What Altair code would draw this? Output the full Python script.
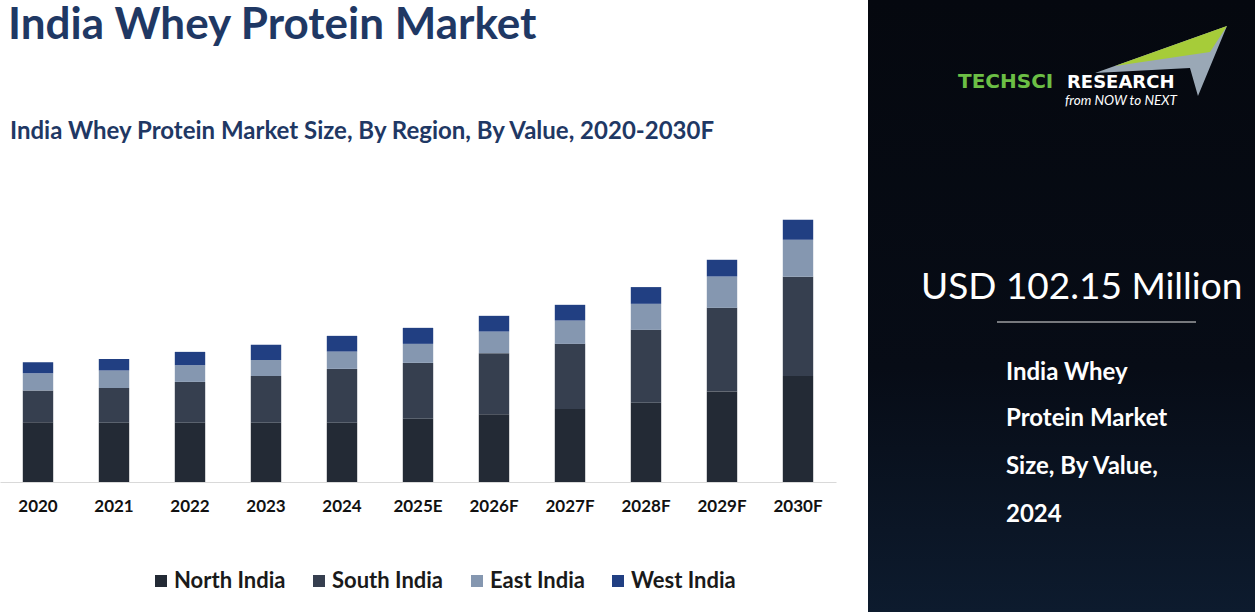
import altair as alt
import pandas as pd

# ---------------- data ----------------
years = ["2020", "2021", "2022", "2023", "2024", "2025E", "2026F", "2027F", "2028F", "2029F", "2030F"]
regions = ["North India", "South India", "East India", "West India"]
north = [41.8, 41.5, 41.5, 41.5, 41.5, 44.3, 47.4, 51.1, 55.5, 63.2, 74.2]
south = [22.1, 24.3, 28.5, 32.7, 37.6, 39.0, 42.7, 45.5, 50.9, 58.6, 69.3]
east = [12.2, 12.1, 11.7, 11.2, 12.1, 13.3, 15.1, 16.3, 18.2, 21.9, 25.9]
west = [7.7, 8.2, 9.3, 10.5, 11.0, 11.2, 11.0, 11.0, 11.7, 11.7, 14.0]
colors = ["#232a35", "#363f4f", "#8597b0", "#213f82"]

title_text = "India Whey Protein Market"
subtitle_text = "India Whey Protein Market Size, By Region, By Value, 2020-2030F"
headline_value = "USD 102.15 Million"
side_lines = ["India Whey", "Protein Market", "Size, By Value,", "2024"]

rows = []
for i, reg in enumerate(regions):
    vals = [north, south, east, west][i]
    for y, v in zip(years, vals):
        rows.append({"Year": y, "Region": reg, "Value": v, "idx": i})
df = pd.DataFrame(rows)

# ---------------- layout ----------------
W, H = 836, 286
TOP, LEFT = 196, 0
TOTAL_W, TOTAL_H = 1255, 612


def one():
    return pd.DataFrame({"t": [""]})


def txt(text, x, y, size, color, weight="bold", font="Lato", style="normal", align="left"):
    return alt.Chart(pd.DataFrame({"t": [text]})).mark_text(
        align=align, baseline="alphabetic", font=font, fontSize=size,
        fontWeight=weight, fontStyle=style, color=color
    ).encode(text="t:N", x=alt.value(x - LEFT), y=alt.value(y - TOP))


# dark right panel
panel = alt.Chart(one()).mark_rect(
    color=alt.LinearGradient(
        gradient="linear", x1=0, x2=0, y1=0, y2=1,
        stops=[alt.GradientStop(color="#05080f", offset=0),
               alt.GradientStop(color="#070c16", offset=0.6),
               alt.GradientStop(color="#0d1b2e", offset=1)]
    )
).encode(x=alt.value(868 - LEFT), x2=alt.value(TOTAL_W - LEFT),
         y=alt.value(-TOP), y2=alt.value(TOTAL_H - TOP))

# logo shapes (custom symbol paths, unit box)
LOGO_SIZE = 133 * 133
logo_gray = alt.Chart(one()).mark_point(
    shape="M -0.992 0.180 L 0.992 -0.526 L 0.556 0.526 L 0.436 0.105 Z",
    filled=True, size=LOGO_SIZE, color="#9aa8b6", opacity=1, strokeWidth=0
).encode(x=alt.value(1161 - LEFT), y=alt.value(61 - TOP))
logo_green = alt.Chart(one()).mark_point(
    shape="M 0.992 -0.526 L -0.692 0.075 L 0.737 -0.135 Z",
    filled=True, size=LOGO_SIZE, color="#a6cc39", opacity=1, strokeWidth=0
).encode(x=alt.value(1161 - LEFT), y=alt.value(61 - TOP))

rule = alt.Chart(one()).mark_rule(color="#e6e6e6", strokeWidth=1).encode(
    x=alt.value(997 - LEFT), x2=alt.value(1196 - LEFT), y=alt.value(322 - TOP)
)

bars = alt.Chart(df).mark_bar().encode(
    x=alt.X("Year:N", sort=years, title=None,
            scale=alt.Scale(paddingInner=0.6, paddingOuter=0.3),
            axis=alt.Axis(labelAngle=0, labelFont="Lato", labelFontWeight="bold",
                          labelFontSize=17, labelColor="#111111", labelPadding=16,
                          ticks=False, domainColor="#d9d9d9", domainWidth=1)),
    y=alt.Y("Value:Q", stack="zero", title=None,
            scale=alt.Scale(domain=[0, 200], nice=False), axis=None),
    color=alt.Color("Region:N", sort=regions,
                    scale=alt.Scale(domain=regions, range=colors),
                    legend=alt.Legend(
                        title=None, orient="none", direction="horizontal",
                        legendX=150 - LEFT, legendY=374, symbolType="square",
                        symbolSize=144, symbolStrokeWidth=0, labelFont="Lato",
                        labelFontWeight="bold", labelFontSize=22, labelColor="#1a1a1a",
                        labelOffset=2, columnPadding=22, padding=0)),
    order=alt.Order("idx:Q", sort="ascending"),
)

layers = [
    panel, logo_gray, logo_green, bars, rule,
    txt(title_text, 8, 39, 44, "#1f3864"),
    txt(subtitle_text, 10, 139, 24, "#1f3864"),
    txt("TECHSCI", 958, 88, 20, "#6cbf45", font="DejaVu Sans"),
    txt("RESEARCH", 1067, 88, 18, "#ffffff", font="DejaVu Sans"),
    txt("from NOW to NEXT", 1065, 105, 13.5, "#ffffff", weight="normal", style="italic"),
    txt(headline_value, 921, 299, 37, "#ffffff", weight="normal"),
]
for line, yb in zip(side_lines, [380, 426, 474, 522]):
    layers.append(txt(line, 1006, yb, 24, "#ffffff"))

chart = alt.layer(*layers).properties(
    width=W, height=H,
    autosize=alt.AutoSizeParams(type="none"),
    padding={"left": LEFT, "top": TOP, "right": TOTAL_W - LEFT - W, "bottom": TOTAL_H - TOP - H},
    background="#ffffff",
).configure_view(stroke=None)

chart.save("out.html", embed_options={"renderer": "svg", "actions": False})
